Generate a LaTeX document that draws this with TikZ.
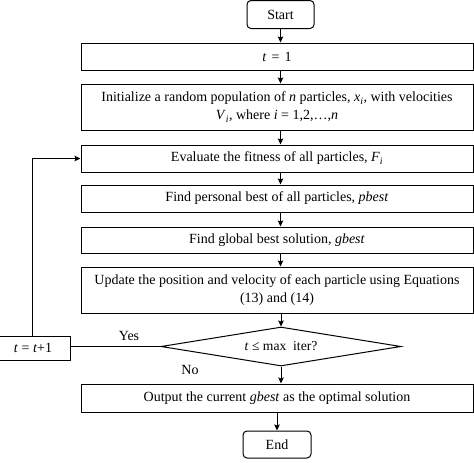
\documentclass[tikz,border=0pt]{standalone}
\usepackage{fontspec}
\setmainfont{Liberation Serif}
\usetikzlibrary{arrows.meta,shapes.geometric}
\tikzset{
  box/.style={draw, line width=1pt, minimum width=392pt, inner sep=0pt, align=center, font=\fontsize{14}{18}\selectfont},
  term/.style={draw, line width=1pt, rounded corners=4pt, inner sep=0pt, font=\fontsize{14}{16}\selectfont},
  dec/.style={draw, line width=1pt, diamond, aspect=6.15, inner sep=0pt, minimum width=240pt, minimum height=39pt, font=\fontsize{13.6}{16}\selectfont},
  arr/.style={line width=1pt, -{Stealth[length=6pt,width=5.5pt,inset=1pt]}},
  ln/.style={line width=1pt},
  lbl/.style={inner sep=0pt, font=\fontsize{14}{16}\selectfont}
}
\begin{document}
\begin{tikzpicture}[x=1pt,y=-1pt]
\useasboundingbox (0,0) rectangle (474,463);
\node[term, minimum width=67pt, minimum height=28pt] (start) at (280.5,14.5) {Start};
\node[box, minimum height=27pt] (t1) at (277,56.5) {\textit{t}\hspace{5pt}=\hspace{5pt}1};
\node[box, minimum height=46pt] (init) at (277,107) {Initialize a random population of \textit{n} particles, \textit{x}\textsubscript{\textit{i}}, with velocities\\ \textit{V}\textsubscript{\textit{i}}, where \textit{i} = 1,2,\ldots,\textit{n}};
\node[box, minimum height=27pt] (eval) at (277,158.5) {Evaluate the fitness of all particles, \textit{F}\textsubscript{\textit{i}}};
\node[box, minimum height=27pt] (pb) at (277,198.5) {Find personal best of all particles, \textit{pbest}};
\node[box, minimum height=26pt] (gb) at (277,240) {Find global best solution, \textit{gbest}};
\node[box, minimum height=46pt] (upd) at (277,290) {Update the position and velocity of each particle using Equations\\ (13) and (14)};
\node[dec] (cond) at (281,346.5) {\textit{t} ≤ max\ \ iter?};
\node[box, minimum height=28pt] (out) at (277,398) {Output the current \textit{gbest} as the optimal solution};
\node[term, minimum width=68pt, minimum height=27pt] (end) at (277,444.5) {End};
\node[draw, line width=1pt, minimum width=74pt, minimum height=24pt, inner sep=0pt, font=\fontsize{14}{16}\selectfont] (tt) at (33,348) {\textit{t} = \textit{t}+1};
\coordinate (loopx) at (32,0);
\draw[arr] (start.south) -- (start.south |- t1.north);
\draw[arr] (t1.south -| start) -- (init.north -| start);
\draw[arr] (init.south -| start) -- (eval.north -| start);
\draw[arr] (eval.south -| start) -- (pb.north -| start);
\draw[arr] (pb.south -| start) -- (gb.north -| start);
\draw[arr] (gb.south -| start) -- (upd.north -| start);
\draw[arr] (upd.south -| cond) -- (cond.north);
\draw[arr] (cond.south) -- (cond.south |- out.north);
\draw[arr] (out.south -| end) -- (end.north);
\draw[ln] (cond.west) -- (tt.east |- cond.west);
\draw[arr] (tt.north -| loopx) |- (eval.west);
\node[lbl] (yes) at (129,336) {Yes};
\node[lbl] (no) at (190,370) {No};
\end{tikzpicture}
\end{document}
